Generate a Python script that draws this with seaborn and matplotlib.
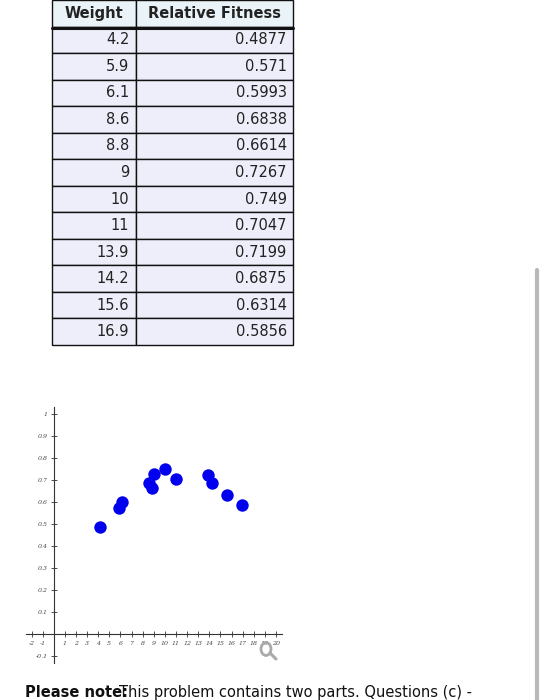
import matplotlib
matplotlib.use("Agg")
import matplotlib.pyplot as plt
import seaborn as sns
import pandas as pd
from matplotlib.lines import Line2D
from matplotlib.patches import Circle

weight = [4.2, 5.9, 6.1, 8.6, 8.8, 9, 10, 11, 13.9, 14.2, 15.6, 16.9]
weight_labels = ["4.2", "5.9", "6.1", "8.6", "8.8", "9", "10", "11", "13.9", "14.2", "15.6", "16.9"]
fitness = [0.4877, 0.571, 0.5993, 0.6838, 0.6614, 0.7267, 0.749, 0.7047, 0.7199, 0.6875, 0.6314, 0.5856]
fitness_labels = ["0.4877", "0.571", "0.5993", "0.6838", "0.6614", "0.7267", "0.749", "0.7047", "0.7199", "0.6875", "0.6314", "0.5856"]
headers = ["Weight", "Relative Fitness"]
xticks = [-2, -1] + list(range(1, 21))
yticks = [-0.1, 0.1, 0.2, 0.3, 0.4, 0.5, 0.6, 0.7, 0.8, 0.9, 1]

sns.set_style("white")
plt.rcParams['font.family'] = ['DejaVu Sans']
W, H = 544, 700
fig = plt.figure(figsize=(W/100, H/100), dpi=100)

# table
tax = fig.add_axes([52/W, 1-345/H, 241/W, 345/H])
tax.axis("off")
cells = [[a, b] for a, b in zip(weight_labels, fitness_labels)]
tbl = tax.table(cellText=cells, colLabels=headers, bbox=[0, 0, 1, 1],
                colWidths=[84/241, 157/241], cellLoc="right")
tbl.auto_set_font_size(False)
for (r, c), cell in tbl.get_celld().items():
    cell.set_edgecolor("#111111")
    cell.set_linewidth(1.0)
    cell.get_text().set_fontsize(10.5)
    cell.get_text().set_color("#222222")
    if r == 0:
        cell.set_facecolor("#eaf3f7")
        cell.get_text().set_fontweight("bold")
        cell.get_text().set_ha("center")
        cell._loc = "center"
    else:
        cell.set_facecolor("#eeeefb")
        cell.PAD = 0.04 if c == 1 else 0.08
fig.add_artist(Line2D([52/W, 293/W], [1-27.5/H, 1-27.5/H], color="#111111", lw=2.2))

# scatter
ax = fig.add_axes([26/W, 1-663/H, 255.5/W, 256/H])
df = pd.DataFrame({"Weight": weight, "Fitness": fitness})
sns.scatterplot(data=df, x="Weight", y="Fitness", ax=ax, color="#0000ee",
                s=80, edgecolor="#0000ee", linewidth=0, zorder=3)
ax.set_xlim(-2.5, 20.5)
ax.set_ylim(-0.13, 1.03)
for s in ["top", "right"]:
    ax.spines[s].set_visible(False)
ax.spines["left"].set_position(("data", 0))
ax.spines["bottom"].set_position(("data", 0))
for s in ["left", "bottom"]:
    ax.spines[s].set_color("#333333")
    ax.spines[s].set_linewidth(0.8)
ax.set_xticks(xticks)
ax.set_xticklabels([str(t) for t in xticks])
ax.set_yticks(yticks)
ax.set_yticklabels([("%g" % t) for t in yticks])
ax.tick_params(bottom=True, left=True, direction="inout", length=5, width=0.6, color="#333333",
               labelsize=4.5, labelcolor="#444444", pad=2)
for lab in ax.get_xticklabels() + ax.get_yticklabels():
    lab.set_fontstyle("italic")
    lab.set_family("DejaVu Serif")
ax.set_xlabel("")
ax.set_ylabel("")
ax.patch.set_alpha(0)

# magnifier icon
fig.add_artist(Circle((266/W, 1-649/H), 5/W, transform=fig.transFigure, fill=False,
                      edgecolor="#aaaaaa", lw=2))
fig.add_artist(Line2D([270/W, 276/W], [1-653/H, 1-659/H], color="#aaaaaa", lw=2.2))

# scrollbar
fig.add_artist(Line2D([537/W, 537/W], [1-270/H, 0], color="#b8b8b8", lw=3))

# bottom text
fig.text(25/W, 1-697/H, "Please note:", fontsize=10.5, fontweight="bold", color="#111111", va="baseline")
fig.text(119/W, 1-697/H, "This problem contains two parts. Questions (c) -", fontsize=10.5,
         color="#111111", va="baseline")

fig.savefig("out.png", dpi=100)
